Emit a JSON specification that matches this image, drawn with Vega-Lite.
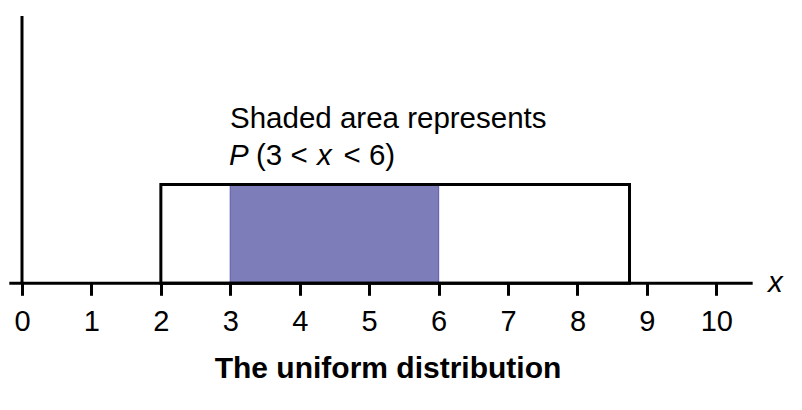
{
  "$schema": "https://vega.github.io/schema/vega-lite/v6.json",
  "autosize": {"type": "none"},
  "width": 802,
  "height": 410,
  "padding": 0,
  "background": "white",
  "config": {"view": {"stroke": null}},
  "datasets": {
    "shaded": [{"x": 3, "x2": 6, "y": 0, "y2": 1}],
    "outline": [{"x": 2, "x2": 8.75, "y": 0, "y2": 1}],
    "vline": [{"x": 0, "y": 0, "y2": 2.7055}],
    "hline": [{"x": -0.183, "x2": 10.524, "y": 0}],
    "labels": [
      {"x": 2.996, "y": 1.569, "text": "Shaded area represents", "italic": 0},
      {"x": 2.98, "y": 1.197, "text": "P", "italic": 1},
      {"x": 3.37, "y": 1.197, "text": "(3 <", "italic": 0},
      {"x": 4.249, "y": 1.197, "text": "x", "italic": 1},
      {"x": 4.631, "y": 1.197, "text": "< 6)", "italic": 0},
      {"x": 10.745, "y": -0.088, "text": "x", "italic": 1}
    ]
  },
  "encoding": {
    "x": {
      "field": "x",
      "type": "quantitative",
      "scale": {"domain": [-0.3169, 11.2344], "nice": false, "zero": false},
      "axis": {
        "orient": "bottom",
        "offset": -126.7,
        "domain": false,
        "grid": false,
        "values": [0, 1, 2, 3, 4, 5, 6, 7, 8, 9, 10],
        "format": "d",
        "ticks": true,
        "tickSize": 12,
        "tickWidth": 3,
        "tickColor": "black",
        "labelFont": "Liberation Sans",
        "labelFontSize": 29,
        "labelColor": "black",
        "labelBaseline": "alphabetic",
        "labelPadding": 35,
        "labelFlush": false,
        "labelOverlap": false,
        "title": "The uniform distribution",
        "titleFont": "Liberation Sans",
        "titleFontSize": 30,
        "titleFontWeight": "bold",
        "titleColor": "black",
        "titleX": 387.5,
        "titleY": 94,
        "titleAlign": "center",
        "titleBaseline": "alphabetic"
      }
    },
    "y": {
      "field": "y",
      "type": "quantitative",
      "scale": {"domain": [-1.2824, 2.8674], "nice": false, "zero": false},
      "axis": null
    }
  },
  "layer": [
    {
      "data": {"name": "shaded"},
      "mark": {"type": "rect", "fill": "#7d7dba", "stroke": "#6565b0", "strokeWidth": 1.2},
      "encoding": {"x2": {"field": "x2"}, "y2": {"field": "y2"}}
    },
    {
      "data": {"name": "outline"},
      "mark": {"type": "rect", "fill": null, "fillOpacity": 0, "stroke": "black", "strokeWidth": 3},
      "encoding": {"x2": {"field": "x2"}, "y2": {"field": "y2"}}
    },
    {
      "data": {"name": "vline"},
      "mark": {"type": "rule", "color": "black", "strokeWidth": 3},
      "encoding": {"y2": {"field": "y2"}}
    },
    {
      "data": {"name": "hline"},
      "mark": {"type": "rule", "color": "black", "strokeWidth": 3},
      "encoding": {"x2": {"field": "x2"}}
    },
    {
      "data": {"name": "labels"},
      "transform": [{"filter": "datum.italic == 0"}],
      "mark": {"type": "text", "font": "Liberation Sans", "fontSize": 29.5, "align": "left", "baseline": "alphabetic", "color": "black"},
      "encoding": {"text": {"field": "text"}}
    },
    {
      "data": {"name": "labels"},
      "transform": [{"filter": "datum.italic == 1"}],
      "mark": {"type": "text", "font": "Liberation Sans", "fontSize": 29.5, "fontStyle": "italic", "align": "left", "baseline": "alphabetic", "color": "black"},
      "encoding": {"text": {"field": "text"}}
    }
  ]
}
